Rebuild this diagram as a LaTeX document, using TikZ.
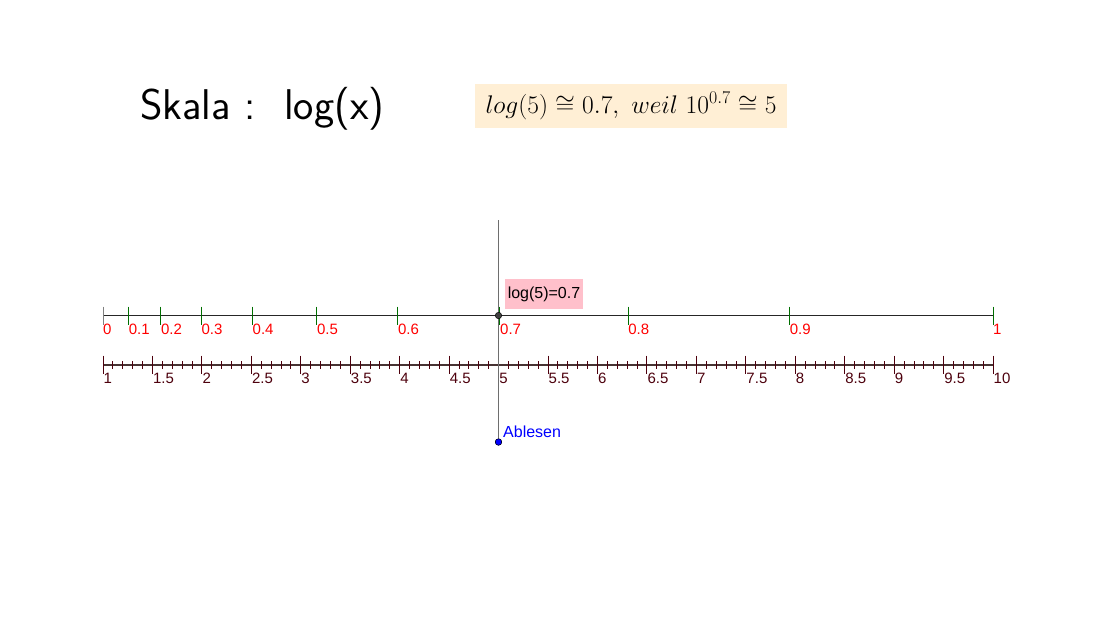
\RequirePackage{fix-cm}
\documentclass[tikz,border=0pt]{standalone}
\usepackage{fontspec}
\newfontfamily\arialf{Liberation Sans}
\definecolor{labbrown}{RGB}{77,0,13}
\definecolor{botline}{RGB}{70,50,50}
\definecolor{tickgreen}{RGB}{0,110,0}
\definecolor{formbg}{RGB}{255,239,213}
\definecolor{pinkbg}{RGB}{255,192,203}
\definecolor{vgray}{RGB}{110,110,110}
\definecolor{dotgray}{RGB}{64,64,64}
\begin{document}
\begin{tikzpicture}[x=1pt,y=-1pt,
  lab/.style={font=\arialf\fontsize{15}{17}\selectfont, anchor=base west, inner sep=0pt},
  toplab/.style={lab, text=red},
  botlab/.style={lab, text=labbrown},
  toptick/.style={draw=tickgreen, line width=1pt},
  majtick/.style={draw=labbrown, line width=1pt},
  mintick/.style={draw=labbrown, line width=0.8pt},
  axisline/.style={line width=1.1pt},
  dot/.style={circle, inner sep=0pt, minimum size=6.5pt, draw=black, line width=0.4pt}
]
\useasboundingbox[fill=white] (0,0) rectangle (1112,641);

% title
\node[anchor=base west, inner sep=0pt, font=\sffamily\fontsize{43}{50}\selectfont] (title) at (140,119) {Skala :\hspace{29pt}log(x)};

% formula box
\node[fill=formbg, minimum width=312pt, minimum height=44pt, inner sep=0pt,
      font=\fontsize{25.5}{30}\selectfont] (formula) at (631,106)
  {$log(5)\cong 0.7,\ weil\ 10^{0.7}\cong 5$};

% top scale
\coordinate (t0) at (103,315.5);
\coordinate (t1) at (993,315.5);
\draw[axisline, black!85] (t0) -- (t1);
\draw[line width=1pt, gray] (103,306.5) -- (103,324.5);
\foreach \x in {128.6,160.8,201.4,252.5,316.8,397.8,499.7,628.1,789.6,993}
  \draw[toptick] (\x,306.5) -- (\x,324.5);
\foreach \x/\t in {103/0,128.6/0.1,160.8/0.2,201.4/0.3,252.5/0.4,316.8/0.5,397.8/0.6,500/0.7,628.1/0.8,789.6/0.9,993/1}
  \node[toplab] at (\x,334) {\t};

% bottom scale
\coordinate (b0) at (103,365);
\coordinate (b1) at (993,365);
\draw[axisline, botline] (b0) -- (b1);
\foreach \i in {0,...,90}{
  \pgfmathsetmacro{\xx}{103+\i*9.889}
  \pgfmathtruncatemacro{\mm}{mod(\i,5)}
  \ifnum\mm=0
    \draw[majtick] (\xx,355.5) -- (\xx,374);
  \else
    \draw[mintick] (\xx,361) -- (\xx,369);
  \fi
}
\foreach \v in {1,1.5,2,2.5,3,3.5,4,4.5,5,5.5,6,6.5,7,7.5,8,8.5,9,9.5,10}{
  \pgfmathsetmacro{\xx}{103.5+(\v-1)*98.89}
  \node[botlab] at (\xx,383) {\v};
}

% reading line
\coordinate (vtop) at (498.5,220);
\node[dot, fill=blue] (ablesen) at (498.5,442) {};
\draw[line width=1.5pt, vgray] (vtop) -- (ablesen.center);
\node[dot, fill=blue] at (ablesen) {};
\node[dot, fill=dotgray] (p07) at (498.5,315.5) {};

% labels
\node[fill=pinkbg, minimum width=78pt, minimum height=30pt, inner sep=0pt,
      font=\arialf\fontsize{16}{18}\selectfont] (loglab) at (544,294) {log(5)=0.7};
\node[anchor=base west, inner sep=0pt, text=blue, font=\arialf\fontsize{16}{18}\selectfont] (ablab) at (503,437) {Ablesen};
\end{tikzpicture}
\end{document}
